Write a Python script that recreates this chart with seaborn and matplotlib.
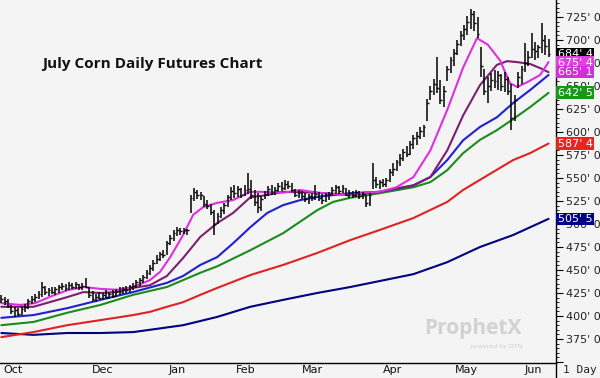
import numpy as np
import pandas as pd
import seaborn as sns
import matplotlib.pyplot as plt
from matplotlib.lines import Line2D
from matplotlib.ticker import FixedLocator, MultipleLocator, FuncFormatter

# daily bars (high, low, close), late Oct -> mid Jun
high = [423, 421, 418, 412, 410, 409, 411, 413, 418, 422, 424, 427, 437, 433, 430, 432, 431, 434, 436, 435,
        437, 436, 437, 435, 436, 441, 431, 427, 424, 426, 425, 428, 426, 428, 429, 431, 432, 433, 434, 436,
        439, 441, 445, 450, 455, 461, 466, 470, 472, 482, 488, 494, 497, 496, 496, 495, 532, 539, 537, 535,
        530, 526, 522, 515, 512, 518, 523, 532, 540, 542, 541, 539, 542, 555, 548, 537, 534, 530, 536, 541,
        542, 540, 545, 546, 548, 547, 545, 538, 537, 536, 534, 533, 534, 542, 535, 533, 534, 535, 540, 542,
        541, 542, 539, 537, 536, 537, 536, 535, 531, 534, 566, 551, 548, 549, 550, 560, 566, 570, 576, 582,
        585, 590, 597, 600, 605, 608, 636, 650, 658, 682, 657, 650, 672, 682, 690, 700, 710, 716, 726, 734,
        732, 725, 692, 668, 660, 664, 667, 666, 663, 665, 660, 652, 640, 665, 672, 697, 688, 708, 698, 695,
        718, 705, 701]
low = [414, 412, 409, 402, 399, 400, 401, 404, 408, 413, 415, 418, 421, 423, 422, 424, 423, 425, 428, 427,
       428, 429, 429, 428, 428, 430, 420, 416, 415, 418, 417, 419, 418, 420, 421, 423, 424, 425, 426, 428,
       430, 433, 436, 440, 445, 449, 456, 460, 463, 466, 477, 482, 487, 488, 489, 488, 512, 525, 527, 526,
       519, 516, 510, 488, 500, 506, 511, 519, 526, 528, 529, 528, 530, 533, 527, 520, 512, 514, 527, 530,
       532, 531, 535, 536, 537, 538, 535, 529, 528, 527, 524, 522, 525, 526, 525, 522, 524, 526, 531, 533,
       533, 534, 530, 528, 528, 529, 527, 527, 518, 520, 538, 539, 538, 540, 540, 546, 552, 558, 563, 569,
       573, 575, 582, 586, 592, 595, 612, 635, 640, 642, 630, 627, 655, 664, 672, 684, 694, 700, 705, 712,
       710, 702, 660, 640, 631, 645, 648, 646, 645, 644, 640, 602, 612, 648, 652, 665, 672, 680, 678, 680,
       686, 684, 682]
close = [418, 416, 411, 405, 407, 402, 408, 410, 416, 419, 421, 424, 432, 426, 428, 426, 429, 431, 433, 430,
         434, 432, 435, 431, 433, 432, 423, 419, 421, 420, 423, 421, 424, 422, 427, 426, 429, 428, 431, 433,
         437, 439, 442, 447, 452, 458, 462, 467, 466, 479, 485, 490, 494, 492, 493, 494, 528, 535, 532, 531,
         522, 520, 513, 500, 509, 515, 521, 529, 536, 534, 538, 532, 537, 538, 531, 524, 519, 527, 533, 538,
         535, 537, 541, 539, 544, 541, 537, 531, 534, 530, 527, 530, 528, 533, 528, 526, 531, 533, 537, 540,
         536, 539, 532, 534, 531, 535, 530, 533, 523, 531, 548, 544, 546, 543, 548, 557, 560, 567, 572, 578,
         576, 587, 594, 596, 601, 605, 631, 645, 652, 648, 635, 645, 668, 678, 686, 696, 705, 712, 720, 728,
         718, 706, 672, 645, 650, 657, 655, 662, 650, 658, 645, 615, 635, 660, 668, 675, 682, 690, 688, 692,
         700, 694, 684.5]

# moving averages: (bar index, value)
ma_fast_x = [0, 5.6, 10, 14.5, 19.5, 24.3, 29.3, 34.3, 39, 44, 47, 50, 53.8, 56.8, 59.8, 63.9, 68.6, 73.7,
             76.6, 83.4, 88.5, 93.5, 103.3, 107, 112, 117, 122, 127, 132, 136.7, 140.8, 144, 147.6, 150.6,
             152.7, 155.6, 159.5, 162]
ma_fast = [414, 412, 414, 421, 428, 431.5, 429.5, 428.5, 431.5, 439, 448, 464, 488, 510, 518.5, 523, 526, 535,
           535, 534, 537, 534, 531.5, 534, 535, 540, 551, 580, 624, 670, 702, 695, 678, 653,
           649, 654, 662, 676]
ma_mid_x = [0, 9.5, 19.5, 24.3, 29.3, 34.3, 39, 44, 49, 53.8, 58.9, 63.9, 68.6, 73.7, 78.7, 83.4, 93.5,
            103.3, 112, 122, 127, 132, 136.7, 141.7, 146.7, 149.7, 152.7, 156.5, 159.5, 162]
ma_mid = [410, 410, 420.5, 426, 425, 426, 430.5, 433.5, 443.5, 463, 486, 501, 512, 529, 531.5, 535, 534,
          531.5, 535, 542, 551, 580, 618, 651, 673, 677, 676, 674, 669.5, 665]
ma_40_x = [0, 9.5, 19.5, 29.3, 39, 49, 53.8, 58.9, 63.9, 68.6, 73.7, 78.7, 83.4, 88.5, 93.5, 103.3, 112,
           122, 127, 132, 136.7, 141.7, 146.7, 151.5, 156.5, 162]
ma_40 = [398, 401, 408.5, 417.5, 426, 436, 443.5, 455.5, 464, 479, 496.5, 512, 520.5, 526, 529.5, 533.5, 535,
         542, 551, 569.5, 591, 605.5, 616, 631.5, 645.5, 662]
ma_50_x = [0, 9.5, 19.5, 29.3, 39, 49, 58.9, 63.9, 73.7, 83.4, 93.5, 98.2, 103.3, 112, 122, 127, 132,
           136.7, 141.7, 146.7, 151.5, 156.5, 162]
ma_50 = [390, 393.5, 403.5, 412, 423, 431.5, 447, 454, 471.5, 490, 515, 524, 528.5, 533.5, 540, 545.5, 558.5,
         577, 591.5, 602, 614, 627, 642.6]
ma_100_x = [0, 9.5, 19.5, 29.3, 39, 44, 49, 53.8, 58.9, 63.9, 73.7, 83.4, 93.5, 103.3, 112, 122, 132,
            136.7, 141.7, 151.5, 156.5, 162]
ma_100 = [377, 382.5, 390, 395.5, 401, 404.5, 410, 415, 423, 430.5, 444.5, 455.5, 468.5, 482.5, 493.5, 506.5,
          524, 537, 548, 569.5, 577, 587.5]
ma_200_x = [0, 9.5, 19.5, 29.3, 39, 44, 53.8, 63.9, 73.7, 83.4, 93.5, 103.3, 112, 122, 132, 141.7, 151.5,
            162]
ma_200 = [381.5, 379.5, 381.5, 381.5, 382.5, 385, 390, 399, 410, 417.5, 425, 431.5, 438, 445.5, 458.5, 475,
          488, 505.6]

month_pos = [-0.4, 5.4, 26, 48.5, 68.5, 88, 112, 133.5, 154]
month_lbl = ['Oct', '', 'Dec', 'Jan', 'Feb', 'Mar', 'Apr', 'May', 'Jun']

last_labels = [(684.5, "684' 4", '#000000'), (675.5, "675' 4", '#e040e0'), (665.1, "665' 1", '#d030d8'),
               (642.6, "642' 5", '#189818'), (587.5, "587' 4", '#e8261c'), (505.6, "505' 5", '#000088')]

sns.set_style('white')
plt.rcParams['font.family'] = ['DejaVu Sans']
bg = '#f4f4f4'

fig = plt.figure(figsize=(6, 3.78), dpi=100, facecolor=bg)
ax = fig.add_axes([0, 1 - 363 / 378, 556 / 600, 363 / 378], facecolor=bg)

ma_sets = [(ma_200_x, ma_200, '#000080'), (ma_100_x, ma_100, '#e02222'), (ma_50_x, ma_50, '#1a8c1a'),
           (ma_40_x, ma_40, '#2020d0'), (ma_mid_x, ma_mid, '#7c1f70'), (ma_fast_x, ma_fast, '#dd30dd')]
for xs, ys, col in ma_sets:
    d = pd.DataFrame({'x': xs, 'y': ys})
    sns.lineplot(data=d, x='x', y='y', color=col, lw=1.5, ax=ax, sort=False, estimator=None)

idx = np.arange(len(close))
ax.vlines(idx, low, high, color='black', lw=1.1, zorder=5)
ax.hlines(close, idx, idx + 0.55, color='black', lw=1.0, zorder=5)

ax.set_xlim(-0.3, 164.2)
ax.set_ylim(348.9, 743.5)
ax.set_xlabel('')
ax.set_ylabel('')

for s in ['left', 'top']:
    ax.spines[s].set_visible(False)
for s in ['right', 'bottom']:
    ax.spines[s].set_color('black')
    ax.spines[s].set_linewidth(1)

ax.yaxis.tick_right()
ax.yaxis.set_major_locator(MultipleLocator(25))
ax.yaxis.set_minor_locator(MultipleLocator(5))
ax.yaxis.set_major_formatter(FuncFormatter(lambda v, p: "%d' 0" % v if 375 <= v <= 725 else ''))
ax.tick_params(axis='y', which='major', length=5, width=0.8, colors='black', labelsize=8, pad=2,
               labelcolor='#222222')
ax.tick_params(axis='y', which='minor', length=2.5, width=0.6, colors='black')

ax.set_xticks(month_pos)
ax.set_xticklabels([])
ax.xaxis.set_minor_locator(FixedLocator(idx))
ax.tick_params(axis='x', which='major', length=8, width=0.8, colors='black', direction='out')
ax.tick_params(axis='x', which='minor', length=2, width=0.5, colors='#555555', direction='out')
for p, lab in zip(month_pos, month_lbl):
    if lab:
        ax.text(p + 0.9, -0.005, lab, transform=ax.get_xaxis_transform(), ha='left', va='top',
                fontsize=8, color='#111111')

ax.text(12.0, 0.825, 'July Corn Daily Futures Chart', transform=ax.get_xaxis_transform(),
        fontsize=11, fontweight='bold', family='Open Sans', color='#111111', va='center')

# watermark
ax.text(0.85, 0.095, 'ProphetX', transform=ax.transAxes, ha='center', va='center', fontsize=15,
        fontweight='bold', color='#d2d2d2', family='Open Sans')
ax.text(0.893, 0.045, 'powered by DTN', transform=ax.transAxes, ha='center', va='center', fontsize=4.5,
        color='#d0d0d0')

# value boxes on the right
for v, txt, col in last_labels:
    ax.text(1.003, v, txt, transform=ax.get_yaxis_transform(), ha='left', va='center', fontsize=8,
            color='white', zorder=10, clip_on=False,
            bbox=dict(boxstyle='square,pad=0.12', fc=col, ec='none'))

fig.add_artist(Line2D([556 / 600, 556 / 600], [0, 1 - 363 / 378], color='black', lw=1))
fig.text(563 / 600, 8 / 378, '1 Day', fontsize=8, family='DejaVu Sans Mono', color='#222222',
         va='center', ha='left')

fig.savefig('out.png', dpi=100, facecolor=bg)
